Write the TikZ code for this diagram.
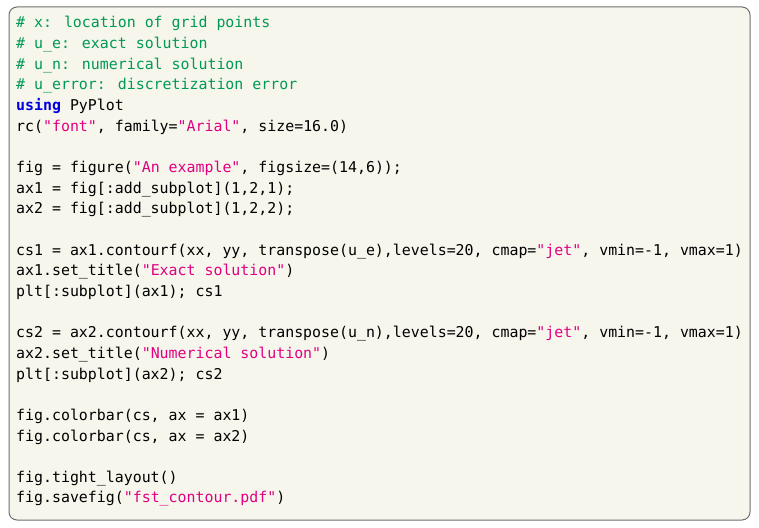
\documentclass[tikz,border=0pt]{standalone}
\usepackage{fontspec}
\newfontfamily\codefont{DejaVu Sans Mono}
\definecolor{cmtcol}{RGB}{0,153,85}
\definecolor{strcol}{RGB}{225,0,130}
\definecolor{kwcol}{RGB}{0,0,225}
\definecolor{bgcol}{RGB}{246,246,236}
\definecolor{bdcol}{RGB}{110,110,110}
\newcommand\ccm[1]{\textcolor{cmtcol}{#1}}
\newcommand\cst[1]{\textcolor{strcol}{#1}}
\newcommand\ckw[1]{\textcolor{kwcol}{\bfseries #1}}
\tikzset{ln/.style={anchor=base west,inner sep=0pt,font=\codefont\fontsize{14.9pt}{20pt}\selectfont}}
\begin{document}
\begin{tikzpicture}[x=1pt,y=1pt]
\useasboundingbox (0,0) rectangle (759,-527);
\draw[bdcol,fill=bgcol,line width=1pt,rounded corners=8pt] (9,-7) rectangle (750,-520);
\def\Y#1{-(28+20.65*#1)}
\node[ln] (l0) at (16,{\Y{0}}) {\ccm{\# x: location of grid points}};
\node[ln] (l1) at (16,{\Y{1}}) {\ccm{\# u\_e: exact solution}};
\node[ln] (l2) at (16,{\Y{2}}) {\ccm{\# u\_n: numerical solution}};
\node[ln] (l3) at (16,{\Y{3}}) {\ccm{\# u\_error: discretization error}};
\node[ln] (l4) at (16,{\Y{4}}) {\ckw{using} PyPlot};
\node[ln] (l5) at (16,{\Y{5}}) {rc(\cst{"font"}, family=\cst{"Arial"}, size=16.0)};
\node[ln] (l7) at (16,{\Y{7}}) {fig = figure(\cst{"An example"}, figsize=(14,6));};
\node[ln] (l8) at (16,{\Y{8}}) {ax1 = fig[:add\_subplot](1,2,1);};
\node[ln] (l9) at (16,{\Y{9}}) {ax2 = fig[:add\_subplot](1,2,2);};
\node[ln] (l11) at (16,{\Y{11}}) {cs1 = ax1.contourf(xx, yy, transpose(u\_e),levels=20, cmap=\cst{"jet"}, vmin=-1, vmax=1)};
\node[ln] (l12) at (16,{\Y{12}}) {ax1.set\_title(\cst{"Exact solution"})};
\node[ln] (l13) at (16,{\Y{13}}) {plt[:subplot](ax1); cs1};
\node[ln] (l15) at (16,{\Y{15}}) {cs2 = ax2.contourf(xx, yy, transpose(u\_n),levels=20, cmap=\cst{"jet"}, vmin=-1, vmax=1)};
\node[ln] (l16) at (16,{\Y{16}}) {ax2.set\_title(\cst{"Numerical solution"})};
\node[ln] (l17) at (16,{\Y{17}}) {plt[:subplot](ax2); cs2};
\node[ln] (l19) at (16,{\Y{19}}) {fig.colorbar(cs, ax = ax1)};
\node[ln] (l20) at (16,{\Y{20}}) {fig.colorbar(cs, ax = ax2)};
\node[ln] (l22) at (16,{\Y{22}}) {fig.tight\_layout()};
\node[ln] (l23) at (16,{\Y{23}}) {fig.savefig(\cst{"fst\_contour.pdf"})};
\end{tikzpicture}
\end{document}
